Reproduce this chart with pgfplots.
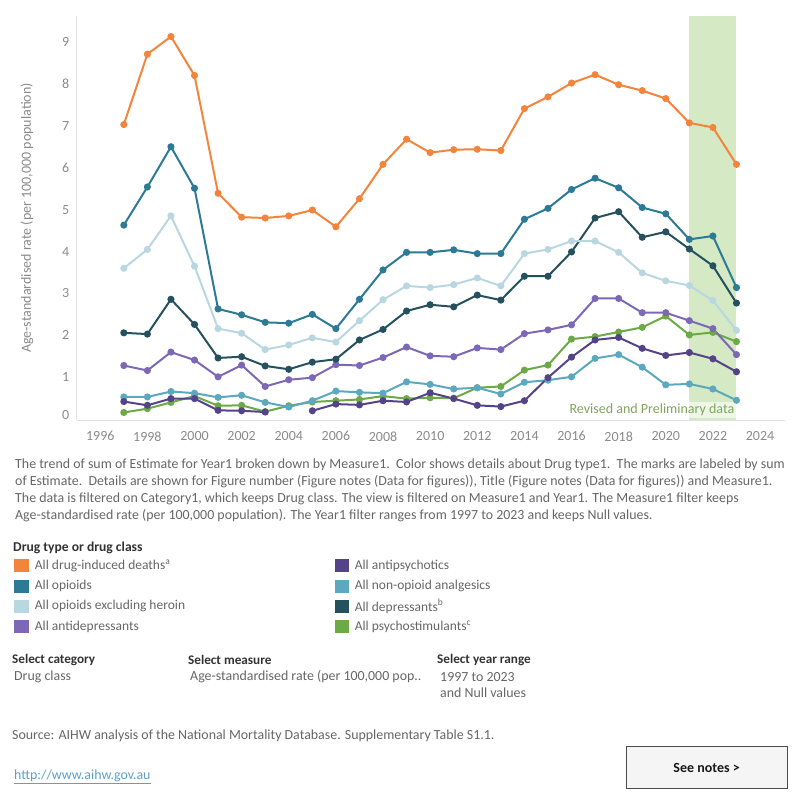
\documentclass[border=0pt]{standalone}
\usepackage{pgfplots}
\pgfplotsset{compat=1.18}
\usepackage{pgfplotstable}
\usepackage{fontspec}
\setmainfont{Carlito}
\definecolor{cOrange}{HTML}{F3843C}
\definecolor{cOpi}{HTML}{2C7A95}
\definecolor{cOpx}{HTML}{B8D7E0}
\definecolor{cAdep}{HTML}{7D68B8}
\definecolor{cApsy}{HTML}{55438A}
\definecolor{cNona}{HTML}{5BA8BF}
\definecolor{cDep}{HTML}{25515E}
\definecolor{cPsy}{HTML}{6BAA47}
\definecolor{cBand}{HTML}{D4E9C4}
\definecolor{cBandTxt}{HTML}{7FA65C}
\definecolor{cTick}{HTML}{8A8A8A}
\definecolor{cTxt}{HTML}{666666}
\definecolor{cDark}{HTML}{333333}
\definecolor{cLink}{HTML}{5E9FC8}

\pgfplotstableread{
year died opi opx adep apsy nona dep psy
1997 7.03 4.63 3.60 1.28 0.42 0.53 2.06 0.16
1998 8.71 5.54 4.05 1.16 0.33 0.53 2.03 0.25
1999 9.13 6.50 4.85 1.60 0.49 0.66 2.86 0.40
2000 8.20 5.51 3.65 1.41 0.49 0.62 2.26 0.55
2001 5.39 2.63 2.16 1.01 0.21 0.52 1.46 0.32
2002 4.82 2.49 2.05 1.29 0.20 0.57 1.49 0.33
2003 4.80 2.31 1.66 0.78 0.17 0.40 1.27 0.18
2004 4.85 2.29 1.77 0.94 nan 0.29 1.19 0.32
2005 4.99 2.50 1.94 0.99 0.20 0.44 1.36 0.41
2006 4.59 2.16 1.84 1.30 0.36 0.67 1.43 0.44
2007 5.26 2.86 2.35 1.28 0.34 0.64 1.89 0.47
2008 6.08 3.56 2.85 1.47 0.44 0.62 2.14 0.55
2009 6.68 3.98 3.18 1.72 0.41 0.89 2.58 0.49
2010 6.36 3.98 3.14 1.51 0.63 0.83 2.73 0.51
2011 6.43 4.04 3.21 1.49 0.49 0.72 2.68 0.50
2012 6.44 3.95 3.37 1.70 0.33 0.75 2.96 0.75
2013 6.41 3.95 3.18 1.66 0.30 0.60 2.84 0.78
2014 7.41 4.77 3.95 2.04 0.44 0.88 3.41 1.17
2015 7.69 5.03 4.05 2.13 0.99 0.93 3.41 1.29
2016 8.02 5.48 4.25 2.25 1.48 1.01 3.99 1.91
2017 8.22 5.75 4.25 2.88 1.89 1.45 4.80 1.97
2018 7.98 5.52 3.98 2.88 1.95 1.54 4.95 2.08
2019 7.84 5.05 3.49 2.54 1.69 1.24 4.34 2.19
2020 7.65 4.90 3.30 2.54 1.52 0.82 4.47 2.46
2021 7.07 4.29 3.19 2.35 1.59 0.84 4.06 2.01
2022 6.96 4.37 2.83 2.16 1.44 0.72 3.66 2.07
2023 6.08 3.14 2.12 1.54 1.13 0.45 2.77 1.85
}\data

\newcommand{\fs}[1]{\fontsize{#1}{#1}\selectfont}

\begin{document}
\begin{tikzpicture}[x=1pt,y=1pt]
\useasboundingbox (0,0) rectangle (800,800);
\begin{axis}[
  at={(76.7pt,380pt)}, anchor=south west,
  scale only axis, width=708.3pt, height=404pt,
  xmin=1995, xmax=2025.06, ymin=-0.02, ymax=9.62,
  axis x line*=bottom, axis y line*=left,
  axis line style={draw=black!12, line width=0.8pt, -},
  xtick={1996,1998,...,2024}, ytick={0,1,...,9},
  yticklabels={\raisebox{9pt}{0},1,2,3,4,5,6,7,8,9},
  major tick length=0pt,
  /pgf/number format/1000 sep={},
  /pgf/number format/assume math mode=true,
  xticklabel style={font=\fs{14}, text=cTick, yshift=-8pt},
  yticklabel style={font=\fs{14}, text=cTick, xshift=-4pt},
  unbounded coords=jump,
  clip=false,
  every axis plot/.append style={line width=2pt, mark=*, mark size=2.5pt},
]
\addplot[draw=none, fill=cBand, mark=none, forget plot] coordinates {(2021,-0.02) (2023,-0.02) (2023,9.62) (2021,9.62)} -- cycle;
\addplot[color=cPsy] table[x=year,y=psy]{\data};
\addplot[color=cNona] table[x=year,y=nona]{\data};
\addplot[color=cApsy] table[x=year,y=apsy]{\data};
\addplot[color=cAdep] table[x=year,y=adep]{\data};
\addplot[color=cDep] table[x=year,y=dep]{\data};
\addplot[color=cOpx] table[x=year,y=opx]{\data};
\addplot[color=cOpi] table[x=year,y=opi]{\data};
\addplot[color=cOrange] table[x=year,y=died]{\data};
\node[anchor=south east, fill=white, fill opacity=0.6, text opacity=1, text=cBandTxt, font=\fs{14}, inner sep=2pt] at (axis cs:2023,0.03) {Revised and Preliminary data};
\end{axis}

\node[rotate=90, text=cTick, font=\fs{14}] at (27,582) {Age-standardised rate (per 100,000 population)};

\begin{scope}[every node/.style={anchor=west, inner sep=0pt, text=cTxt, font=\fs{13.9}}]
\node at (15,335) {The trend of sum of Estimate for Year1 broken down by Measure1.\ \ Color shows details about Drug type1.\ \ The marks are labeled by sum};
\node at (15,318) {of Estimate.\ \ Details are shown for Figure number (Figure notes (Data for figures)), Title (Figure notes (Data for figures)) and Measure1.};
\node at (15,301) {The data is filtered on Category1, which keeps Drug class. The view is filtered on Measure1 and Year1. The Measure1 filter keeps};
\node at (15,284) {Age-standardised rate (per 100,000 population). The Year1 filter ranges from 1997 to 2023 and keeps Null values.};
\end{scope}

\begin{scope}[every node/.style={anchor=west, inner sep=0pt, text=cTxt, font=\fs{13.5}}]
\node[text=cDark, font=\bfseries\fs{13.6}] at (13,252) {Drug type or drug class};
\fill[cOrange] (14.3,227.5) rectangle (28.6,240.5);
\fill[cOpi] (14.3,207.3) rectangle (28.6,220.3);
\fill[cOpx] (14.3,187.1) rectangle (28.6,200.1);
\fill[cAdep] (14.3,166.9) rectangle (28.6,179.9);
\fill[cApsy] (335,227.5) rectangle (349.3,240.5);
\fill[cNona] (335,207.3) rectangle (349.3,220.3);
\fill[cDep] (335,187.1) rectangle (349.3,200.1);
\fill[cPsy] (335,166.9) rectangle (349.3,179.9);
\node at (34.7,234) {All drug-induced deaths\textsuperscript{a}};
\node at (34.7,213.8) {All opioids};
\node at (34.7,193.6) {All opioids excluding heroin};
\node at (34.7,173.4) {All antidepressants};
\node at (354.6,234) {All antipsychotics};
\node at (354.6,213.8) {All non-opioid analgesics};
\node at (354.6,193.6) {All depressants\textsuperscript{b}};
\node at (354.6,173.4) {All psychostimulants\textsuperscript{c}};

\node[text=cDark, font=\bfseries\fs{13.2}] at (12,140) {Select category};
\node[font=\fs{13.9}] at (14,123) {Drug class};
\node[text=cDark, font=\bfseries\fs{13.2}] at (188,140) {Select measure};
\node[font=\fs{13.9}] at (190,123) {Age-standardised rate (per 100,000 pop..};
\node[text=cDark, font=\bfseries\fs{13.2}] at (437,140) {Select year range};
\node[font=\fs{13.9}] at (440,123) {1997 to 2023};
\node[font=\fs{13.9}] at (440,107) {and Null values};

\node[font=\fs{13.9}] at (12,64) {Source: AIHW analysis of the National Mortality Database. Supplementary Table S1.1.};
\node[text=cLink, font=\fs{13.9}] at (14,23) {\underline{http://www.aihw.gov.au}};
\end{scope}

\draw[draw=black!70, fill=black!4, line width=0.8pt] (626.5,12) rectangle (787,54);
\node[text=black!90, font=\bfseries\fs{14}] at (706.6,32) {See notes >};
\end{tikzpicture}
\end{document}
